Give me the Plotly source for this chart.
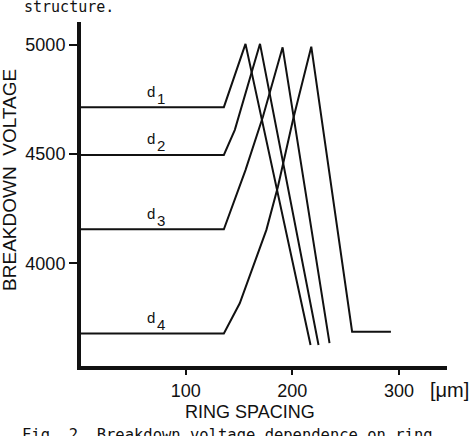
import plotly.graph_objects as go

# ring spacing [um] and breakdown voltage [V]
d1_x = [0, 135.8, 156.1, 217.1]
d1_v = [4715, 4715, 5005, 3626]

d2_x = [0, 135.8, 146.1, 169.7, 224.6]
d2_v = [4496, 4496, 4611, 5005, 3626]

d3_x = [0, 135.8, 156.1, 172.5, 190.9, 234.9]
d3_v = [4156, 4156, 4427, 4672, 4989, 3634]

d4_x = [0, 135.8, 150.7, 164.7, 175.7, 186.5, 200.6, 217.8, 256.1, 292.5]
d4_v = [3679, 3679, 3817, 4000, 4153, 4351, 4656, 4992, 3687, 3687]

curve_names = ["1", "2", "3", "4"]
x_ticks = [100, 200, 300]
y_ticks = [4000, 4500, 5000]

SANS = "Liberation Sans, Arial, sans-serif"
MONO = "DejaVu Sans Mono, monospace"
INK = "#111111"

fig = go.Figure()

curves = [(d1_x, d1_v), (d2_x, d2_v), (d3_x, d3_v), (d4_x, d4_v)]
for (xs, vs), name in zip(curves, curve_names):
    fig.add_trace(
        go.Scatter(
            x=xs,
            y=vs,
            mode="lines",
            line=dict(color=INK, width=2),
            name="d" + name,
            showlegend=False,
            hoverinfo="skip",
        )
    )
    # curve label: "d" with a full size index a little lower
    fig.add_annotation(
        x=67.6, y=vs[0], text="d", showarrow=False,
        xanchor="center", yanchor="middle",
        yshift=16, font=dict(family=SANS, size=15, color=INK),
    )
    fig.add_annotation(
        x=77.0, y=vs[0], text=name, showarrow=False,
        xanchor="center", yanchor="middle",
        yshift=9, font=dict(family=SANS, size=15, color=INK),
    )


def paper_text(x, y, text, size, family=SANS, xanchor="center", angle=0):
    fig.add_annotation(
        xref="paper", yref="paper", x=x, y=y, text=text,
        xanchor=xanchor, yanchor="middle", textangle=angle,
        showarrow=False, font=dict(family=family, size=size, color=INK),
    )


# axis titles and caption fragments
paper_text(-0.194, 0.541, "BREAKDOWN  VOLTAGE", 19, angle=-90)
paper_text(0.4617, -0.135, "RING SPACING", 18)
paper_text(1.0055, -0.0698, "[μm]", 20)
paper_text(-0.161, 1.0436, "structure.", 15, family=MONO, xanchor="left")
paper_text(-0.1667, -0.2006, "Fig. 2. Breakdown voltage dependence on ring",
           15.5, family=MONO, xanchor="left")

fig.update_layout(
    width=474,
    height=436,
    margin=dict(l=81, r=27, t=22, b=70),
    paper_bgcolor="white",
    plot_bgcolor="white",
    font=dict(family=SANS, size=18, color=INK),
    xaxis=dict(
        range=[1.8, 345.1],
        tickvals=x_ticks,
        showline=True, linewidth=4, linecolor=INK,
        ticks="outside", ticklen=5, tickwidth=2, tickcolor=INK,
        showgrid=False, zeroline=False,
    ),
    yaxis=dict(
        range=[3529.6, 5105],
        tickvals=y_ticks,
        tickformat="d",
        showline=True, linewidth=4, linecolor=INK,
        ticks="outside", ticklen=8, tickwidth=2, tickcolor=INK,
        showgrid=False, zeroline=False,
    ),
)

# drop the browser's default body margin so the figure sits at the page corner
fig.write_html(
    "out.html",
    config={"displayModeBar": False},
    post_script="document.body.style.margin = '0';",
)
